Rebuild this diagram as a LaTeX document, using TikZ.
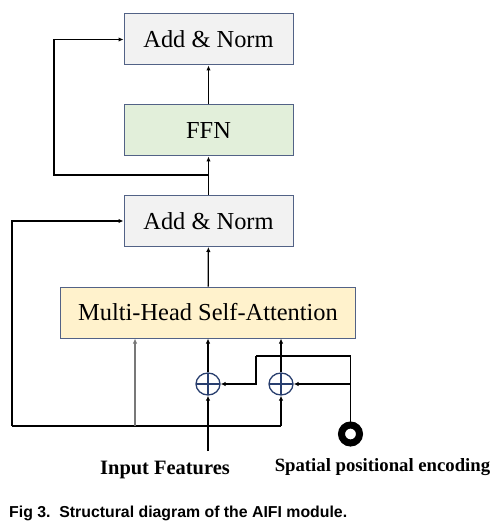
\documentclass[tikz,border=0pt]{standalone}
\usepackage{fontspec}
\setmainfont{Liberation Serif}
\newfontfamily\capfont{Liberation Sans}
\usetikzlibrary{arrows.meta}
\definecolor{boxline}{RGB}{82,98,134}
\definecolor{normfill}{RGB}{242,242,242}
\definecolor{ffnfill}{RGB}{226,239,218}
\definecolor{attfill}{RGB}{255,242,204}
\definecolor{plusnavy}{RGB}{40,62,110}
\definecolor{grayline}{RGB}{120,120,120}
\tikzset{
  blk/.style={draw=boxline, line width=1bp, minimum height=51bp, inner sep=0pt,
    font=\fontsize{24.5}{28}\selectfont},
  arr/.style={-{Latex[length=5bp,width=4.5bp]}, line width=1.3bp, black},
  ln/.style={line width=1.3bp, black},
  plus/.style={draw=plusnavy, line width=1.3bp, ellipse, minimum width=24bp, minimum height=22bp, inner sep=0pt,
    path picture={\draw[plusnavy, line width=1.1bp] (path picture bounding box.west) -- (path picture bounding box.east);
                  \draw[plusnavy, line width=1.1bp] (path picture bounding box.north) -- (path picture bounding box.south);}},
  lbl/.style={font=\bfseries\fontsize{20.5}{24}\selectfont, inner sep=0pt}
}
\usetikzlibrary{shapes.geometric}
\begin{document}
\begin{tikzpicture}[x=1bp,y=-1bp]
\useasboundingbox[fill=white] (0,0) rectangle (499,523);
% boxes
\node[blk, fill=normfill, minimum width=169bp] (a1) at (208.5,39.5) {Add \& Norm};
\node[blk, fill=ffnfill, minimum width=169bp] (ffn) at (208.5,130.5) {FFN};
\node[blk, fill=normfill, minimum width=169bp] (a2) at (208.5,221) {Add \& Norm};
\node[blk, fill=attfill, minimum width=294bp] (mhsa) at (208,312.5) {Multi-Head Self-Attention};
% adders
\node[plus] (p1) at (208,384) {};
\node[plus] (p2) at (281,384) {};
% spatial ring
\node[circle, draw=black, line width=7bp, minimum size=18bp, inner sep=0pt] (ring) at (350.5,434) {};
% coordinates
\coordinate (in) at (208,451);
\coordinate (j1) at (208,175);
\coordinate (bl) at (12,426);
\coordinate (br) at (281,426);
\coordinate (bv) at (135,426);
\coordinate (st) at (350.5,356);
\coordinate (sm) at (350.5,384);
\coordinate (sk) at (256,356);
% main flow
\draw[arr] (in) -- (p1);
\draw[arr] (p1) -- (mhsa.south -| p1);
\draw[arr] (mhsa) -- (a2);
\draw[arr] (a2) -- (ffn);
\draw[arr] (ffn) -- (a1);
% skip connections
\draw[arr] (j1) -| (54,39.5) -- (a1.west);
\draw[arr] (bl) |- (a2.west);
\draw[ln] (bl) -- (br);
\draw[arr] (br) -- (p2);
\draw[arr] (p2) -- (mhsa.south -| p2);
\draw[-{Latex[length=5bp,width=4.5bp]}, line width=1.6bp, grayline] (bv) -- (mhsa.south -| bv);
% positional encoding
\draw[ln] (ring) -- (st) -- (sk);
\draw[arr] (sk) |- (p1);
\draw[arr] (sm) -- (p2);
% labels
\node[lbl] (inlbl) at (165,470) {Input Features};
\node[lbl, font=\bfseries\fontsize{18.8}{22}\selectfont] (splbl) at (382.5,467) {Spatial positional encoding};
\node[anchor=west, inner sep=0pt, font=\capfont\bfseries\fontsize{15.9}{18}\selectfont] (cap) at (9,513) {Fig 3.\ \ Structural diagram of the AIFI module.};
\end{tikzpicture}
\end{document}
